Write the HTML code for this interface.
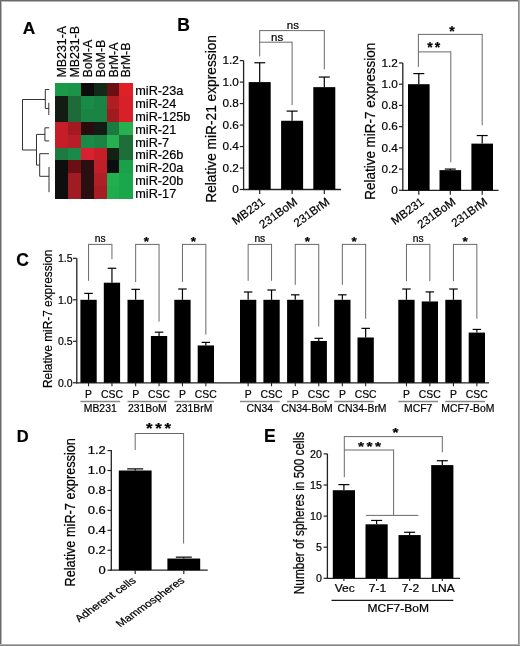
<!DOCTYPE html>
<html><head><meta charset="utf-8"><title>Figure</title>
<style>
html,body{margin:0;padding:0;background:#fff;}
body{width:520px;height:646px;overflow:hidden;}
svg{display:block;font-family:'Liberation Sans', Arial, Helvetica, sans-serif;}
text{stroke:#000;stroke-width:0.2;}
</style></head>
<body>
<svg width="520" height="646" viewBox="0 0 520 646">
<rect x="0" y="0" width="520" height="646" fill="#fff"/>
<text x="22.80" y="34.00" font-size="17.3" text-anchor="start" font-weight="bold" fill="#000" >A</text>
<g shape-rendering="crispEdges">
<rect x="55.20" y="83.00" width="13.15" height="13.20" fill="#1a9a48"/>
<rect x="68.05" y="83.00" width="13.15" height="13.20" fill="#1a9448"/>
<rect x="80.90" y="83.00" width="13.15" height="13.20" fill="#0c0c0c"/>
<rect x="93.75" y="83.00" width="13.15" height="13.20" fill="#122a18"/>
<rect x="106.60" y="83.00" width="13.15" height="13.20" fill="#6a1012"/>
<rect x="119.45" y="83.00" width="13.15" height="13.20" fill="#e02028"/>
<rect x="55.20" y="95.90" width="13.15" height="13.20" fill="#141a14"/>
<rect x="68.05" y="95.90" width="13.15" height="13.20" fill="#1e6a38"/>
<rect x="80.90" y="95.90" width="13.15" height="13.20" fill="#1a8a48"/>
<rect x="93.75" y="95.90" width="13.15" height="13.20" fill="#1a8444"/>
<rect x="106.60" y="95.90" width="13.15" height="13.20" fill="#b01e24"/>
<rect x="119.45" y="95.90" width="13.15" height="13.20" fill="#d82028"/>
<rect x="55.20" y="108.80" width="13.15" height="13.20" fill="#141a14"/>
<rect x="68.05" y="108.80" width="13.15" height="13.20" fill="#1e6a38"/>
<rect x="80.90" y="108.80" width="13.15" height="13.20" fill="#1a8444"/>
<rect x="93.75" y="108.80" width="13.15" height="13.20" fill="#1a8444"/>
<rect x="106.60" y="108.80" width="13.15" height="13.20" fill="#a01a20"/>
<rect x="119.45" y="108.80" width="13.15" height="13.20" fill="#d82028"/>
<rect x="55.20" y="121.70" width="13.15" height="13.20" fill="#c41e28"/>
<rect x="68.05" y="121.70" width="13.15" height="13.20" fill="#a41a22"/>
<rect x="80.90" y="121.70" width="13.15" height="13.20" fill="#2a0c0e"/>
<rect x="93.75" y="121.70" width="13.15" height="13.20" fill="#141a14"/>
<rect x="106.60" y="121.70" width="13.15" height="13.20" fill="#1a7a40"/>
<rect x="119.45" y="121.70" width="13.15" height="13.20" fill="#28b050"/>
<rect x="55.20" y="134.60" width="13.15" height="13.20" fill="#c41e28"/>
<rect x="68.05" y="134.60" width="13.15" height="13.20" fill="#b81e28"/>
<rect x="80.90" y="134.60" width="13.15" height="13.20" fill="#1a8a48"/>
<rect x="93.75" y="134.60" width="13.15" height="13.20" fill="#1a8444"/>
<rect x="106.60" y="134.60" width="13.15" height="13.20" fill="#28b050"/>
<rect x="119.45" y="134.60" width="13.15" height="13.20" fill="#1e6e3a"/>
<rect x="55.20" y="147.50" width="13.15" height="13.20" fill="#1e7a40"/>
<rect x="68.05" y="147.50" width="13.15" height="13.20" fill="#1a8a48"/>
<rect x="80.90" y="147.50" width="13.15" height="13.20" fill="#d82030"/>
<rect x="93.75" y="147.50" width="13.15" height="13.20" fill="#c81e28"/>
<rect x="106.60" y="147.50" width="13.15" height="13.20" fill="#142014"/>
<rect x="119.45" y="147.50" width="13.15" height="13.20" fill="#1e6e3a"/>
<rect x="55.20" y="160.40" width="13.15" height="13.20" fill="#0e0e0e"/>
<rect x="68.05" y="160.40" width="13.15" height="13.20" fill="#6a1014"/>
<rect x="80.90" y="160.40" width="13.15" height="13.20" fill="#2a0e10"/>
<rect x="93.75" y="160.40" width="13.15" height="13.20" fill="#c01e28"/>
<rect x="106.60" y="160.40" width="13.15" height="13.20" fill="#0a0e0e"/>
<rect x="119.45" y="160.40" width="13.15" height="13.20" fill="#1aa04a"/>
<rect x="55.20" y="173.30" width="13.15" height="13.20" fill="#0e0e0e"/>
<rect x="68.05" y="173.30" width="13.15" height="13.20" fill="#a01c22"/>
<rect x="80.90" y="173.30" width="13.15" height="13.20" fill="#2a0e10"/>
<rect x="93.75" y="173.30" width="13.15" height="13.20" fill="#b01e26"/>
<rect x="106.60" y="173.30" width="13.15" height="13.20" fill="#20b050"/>
<rect x="119.45" y="173.30" width="13.15" height="13.20" fill="#1aa64a"/>
<rect x="55.20" y="186.20" width="13.15" height="13.20" fill="#0e0e0e"/>
<rect x="68.05" y="186.20" width="13.15" height="13.20" fill="#a01c22"/>
<rect x="80.90" y="186.20" width="13.15" height="13.20" fill="#2a0e10"/>
<rect x="93.75" y="186.20" width="13.15" height="13.20" fill="#a81c24"/>
<rect x="106.60" y="186.20" width="13.15" height="13.20" fill="#20ac4e"/>
<rect x="119.45" y="186.20" width="13.15" height="13.20" fill="#1aa64a"/>
</g>
<text transform="translate(66.12,77.60) rotate(-90) scale(1.0,1.0)" font-size="12.4" text-anchor="start">MB231-A</text>
<text transform="translate(78.97,77.60) rotate(-90) scale(1.0,1.0)" font-size="12.4" text-anchor="start">MB231-B</text>
<text transform="translate(91.83,77.60) rotate(-90) scale(1.0,1.0)" font-size="12.4" text-anchor="start">BoM-A</text>
<text transform="translate(104.68,77.60) rotate(-90) scale(1.0,1.0)" font-size="12.4" text-anchor="start">BoM-B</text>
<text transform="translate(117.53,77.60) rotate(-90) scale(1.0,1.0)" font-size="12.4" text-anchor="start">BrM-A</text>
<text transform="translate(130.38,77.60) rotate(-90) scale(1.0,1.0)" font-size="12.4" text-anchor="start">BrM-B</text>
<text x="135.30" y="95.10" font-size="12.7" text-anchor="start" font-weight="normal" fill="#000" >miR-23a</text>
<text x="135.30" y="107.95" font-size="12.7" text-anchor="start" font-weight="normal" fill="#000" >miR-24</text>
<text x="135.30" y="120.80" font-size="12.7" text-anchor="start" font-weight="normal" fill="#000" >miR-125b</text>
<text x="135.30" y="133.65" font-size="12.7" text-anchor="start" font-weight="normal" fill="#000" >miR-21</text>
<text x="135.30" y="146.50" font-size="12.7" text-anchor="start" font-weight="normal" fill="#000" >miR-7</text>
<text x="135.30" y="159.35" font-size="12.7" text-anchor="start" font-weight="normal" fill="#000" >miR-26b</text>
<text x="135.30" y="172.20" font-size="12.7" text-anchor="start" font-weight="normal" fill="#000" >miR-20a</text>
<text x="135.30" y="185.05" font-size="12.7" text-anchor="start" font-weight="normal" fill="#000" >miR-20b</text>
<text x="135.30" y="197.90" font-size="12.7" text-anchor="start" font-weight="normal" fill="#000" >miR-17</text>
<line x1="22.50" y1="99.50" x2="22.50" y2="150.00" stroke="#333" stroke-width="1.0"/>
<line x1="22.50" y1="99.50" x2="45.30" y2="99.50" stroke="#333" stroke-width="1.0"/>
<line x1="45.30" y1="89.50" x2="45.30" y2="108.50" stroke="#333" stroke-width="1.0"/>
<line x1="45.30" y1="89.50" x2="49.20" y2="89.50" stroke="#333" stroke-width="1.0"/>
<line x1="45.30" y1="108.50" x2="48.80" y2="108.50" stroke="#333" stroke-width="1.0"/>
<line x1="48.80" y1="102.80" x2="48.80" y2="115.00" stroke="#333" stroke-width="1.0"/>
<line x1="22.50" y1="150.00" x2="36.50" y2="150.00" stroke="#333" stroke-width="1.0"/>
<line x1="36.50" y1="134.40" x2="36.50" y2="165.10" stroke="#333" stroke-width="1.0"/>
<line x1="36.50" y1="134.40" x2="44.90" y2="134.40" stroke="#333" stroke-width="1.0"/>
<line x1="44.90" y1="127.80" x2="44.90" y2="140.90" stroke="#333" stroke-width="1.0"/>
<line x1="44.90" y1="127.80" x2="49.20" y2="127.80" stroke="#333" stroke-width="1.0"/>
<line x1="44.90" y1="140.90" x2="49.20" y2="140.90" stroke="#333" stroke-width="1.0"/>
<line x1="36.50" y1="165.10" x2="39.70" y2="165.10" stroke="#333" stroke-width="1.0"/>
<line x1="39.70" y1="153.70" x2="39.70" y2="176.30" stroke="#333" stroke-width="1.0"/>
<line x1="39.70" y1="153.70" x2="49.00" y2="153.70" stroke="#333" stroke-width="1.0"/>
<line x1="39.70" y1="176.30" x2="49.00" y2="176.30" stroke="#333" stroke-width="1.0"/>
<line x1="49.00" y1="167.00" x2="49.00" y2="192.20" stroke="#333" stroke-width="1.0"/>
<text x="177.20" y="30.70" font-size="17.5" text-anchor="start" font-weight="bold" fill="#000" >B</text>
<line x1="243.60" y1="60.60" x2="243.60" y2="190.10" stroke="#222" stroke-width="1.3"/>
<line x1="243.00" y1="189.50" x2="341.00" y2="189.50" stroke="#222" stroke-width="1.3"/>
<line x1="239.80" y1="189.50" x2="243.60" y2="189.50" stroke="#222" stroke-width="1.2"/>
<text x="238.80" y="193.20" font-size="11.8" text-anchor="end" font-weight="normal" fill="#000" >0</text>
<line x1="239.80" y1="168.02" x2="243.60" y2="168.02" stroke="#222" stroke-width="1.2"/>
<text x="238.80" y="171.72" font-size="11.8" text-anchor="end" font-weight="normal" fill="#000" >0.2</text>
<line x1="239.80" y1="146.54" x2="243.60" y2="146.54" stroke="#222" stroke-width="1.2"/>
<text x="238.80" y="150.24" font-size="11.8" text-anchor="end" font-weight="normal" fill="#000" >0.4</text>
<line x1="239.80" y1="125.06" x2="243.60" y2="125.06" stroke="#222" stroke-width="1.2"/>
<text x="238.80" y="128.76" font-size="11.8" text-anchor="end" font-weight="normal" fill="#000" >0.6</text>
<line x1="239.80" y1="103.58" x2="243.60" y2="103.58" stroke="#222" stroke-width="1.2"/>
<text x="238.80" y="107.28" font-size="11.8" text-anchor="end" font-weight="normal" fill="#000" >0.8</text>
<line x1="239.80" y1="82.10" x2="243.60" y2="82.10" stroke="#222" stroke-width="1.2"/>
<text x="238.80" y="85.80" font-size="11.8" text-anchor="end" font-weight="normal" fill="#000" >1.0</text>
<line x1="239.80" y1="60.62" x2="243.60" y2="60.62" stroke="#222" stroke-width="1.2"/>
<text x="238.80" y="64.32" font-size="11.8" text-anchor="end" font-weight="normal" fill="#000" >1.2</text>
<rect x="248.70" y="82.10" width="22.00" height="107.40" fill="#000"/>
<line x1="259.70" y1="62.77" x2="259.70" y2="82.10" stroke="#000" stroke-width="1.2"/>
<line x1="254.20" y1="62.77" x2="265.20" y2="62.77" stroke="#000" stroke-width="1.2"/>
<rect x="281.10" y="120.76" width="22.00" height="68.74" fill="#000"/>
<line x1="292.10" y1="111.10" x2="292.10" y2="120.76" stroke="#000" stroke-width="1.2"/>
<line x1="286.60" y1="111.10" x2="297.60" y2="111.10" stroke="#000" stroke-width="1.2"/>
<rect x="313.30" y="87.15" width="22.00" height="102.35" fill="#000"/>
<line x1="324.30" y1="77.05" x2="324.30" y2="87.15" stroke="#000" stroke-width="1.2"/>
<line x1="318.80" y1="77.05" x2="329.80" y2="77.05" stroke="#000" stroke-width="1.2"/>
<line x1="259.70" y1="189.50" x2="259.70" y2="194.00" stroke="#222" stroke-width="1.2"/>
<line x1="292.10" y1="189.50" x2="292.10" y2="194.00" stroke="#222" stroke-width="1.2"/>
<line x1="324.30" y1="189.50" x2="324.30" y2="194.00" stroke="#222" stroke-width="1.2"/>
<line x1="259.70" y1="30.60" x2="324.30" y2="30.60" stroke="#6a6a6a" stroke-width="1"/>
<line x1="259.70" y1="30.10" x2="259.70" y2="56.50" stroke="#6a6a6a" stroke-width="1"/>
<line x1="324.30" y1="30.10" x2="324.30" y2="69.40" stroke="#6a6a6a" stroke-width="1"/>
<line x1="259.70" y1="42.20" x2="292.10" y2="42.20" stroke="#6a6a6a" stroke-width="1"/>
<line x1="292.10" y1="41.70" x2="292.10" y2="105.10" stroke="#6a6a6a" stroke-width="1"/>
<text x="292.90" y="28.50" font-size="11.5" text-anchor="middle" font-weight="normal" fill="#000" >ns</text>
<text x="277.20" y="40.60" font-size="11.5" text-anchor="middle" font-weight="normal" fill="#000" >ns</text>
<text transform="translate(215.90,118.90) rotate(-90) scale(1.0,1.0)" font-size="14" text-anchor="middle" textLength="167.70" lengthAdjust="spacingAndGlyphs">Relative miR-21 expression</text>
<text transform="translate(265.70,203.40) rotate(-36) scale(1.0,1.0)" font-size="11.7" text-anchor="end">MB231</text>
<text transform="translate(298.10,203.40) rotate(-36) scale(1.0,1.0)" font-size="11.7" text-anchor="end">231BoM</text>
<text transform="translate(330.30,203.40) rotate(-36) scale(1.0,1.0)" font-size="11.7" text-anchor="end">231BrM</text>
<line x1="402.80" y1="63.00" x2="402.80" y2="190.90" stroke="#222" stroke-width="1.3"/>
<line x1="402.20" y1="190.30" x2="498.50" y2="190.30" stroke="#222" stroke-width="1.3"/>
<line x1="399.00" y1="190.30" x2="402.80" y2="190.30" stroke="#222" stroke-width="1.2"/>
<text x="397.80" y="194.00" font-size="11.8" text-anchor="end" font-weight="normal" fill="#000" >0</text>
<line x1="399.00" y1="169.08" x2="402.80" y2="169.08" stroke="#222" stroke-width="1.2"/>
<text x="397.80" y="172.78" font-size="11.8" text-anchor="end" font-weight="normal" fill="#000" >0.2</text>
<line x1="399.00" y1="147.86" x2="402.80" y2="147.86" stroke="#222" stroke-width="1.2"/>
<text x="397.80" y="151.56" font-size="11.8" text-anchor="end" font-weight="normal" fill="#000" >0.4</text>
<line x1="399.00" y1="126.64" x2="402.80" y2="126.64" stroke="#222" stroke-width="1.2"/>
<text x="397.80" y="130.34" font-size="11.8" text-anchor="end" font-weight="normal" fill="#000" >0.6</text>
<line x1="399.00" y1="105.42" x2="402.80" y2="105.42" stroke="#222" stroke-width="1.2"/>
<text x="397.80" y="109.12" font-size="11.8" text-anchor="end" font-weight="normal" fill="#000" >0.8</text>
<line x1="399.00" y1="84.20" x2="402.80" y2="84.20" stroke="#222" stroke-width="1.2"/>
<text x="397.80" y="87.90" font-size="11.8" text-anchor="end" font-weight="normal" fill="#000" >1.0</text>
<line x1="399.00" y1="62.98" x2="402.80" y2="62.98" stroke="#222" stroke-width="1.2"/>
<text x="397.80" y="66.68" font-size="11.8" text-anchor="end" font-weight="normal" fill="#000" >1.2</text>
<rect x="408.00" y="84.20" width="21.60" height="106.10" fill="#000"/>
<line x1="418.80" y1="73.59" x2="418.80" y2="84.20" stroke="#000" stroke-width="1.2"/>
<line x1="413.30" y1="73.59" x2="424.30" y2="73.59" stroke="#000" stroke-width="1.2"/>
<rect x="439.50" y="170.14" width="21.60" height="20.16" fill="#000"/>
<line x1="450.30" y1="169.08" x2="450.30" y2="170.14" stroke="#000" stroke-width="1.2"/>
<line x1="444.80" y1="169.08" x2="455.80" y2="169.08" stroke="#000" stroke-width="1.2"/>
<rect x="471.40" y="143.62" width="21.60" height="46.68" fill="#000"/>
<line x1="482.20" y1="135.55" x2="482.20" y2="143.62" stroke="#000" stroke-width="1.2"/>
<line x1="476.70" y1="135.55" x2="487.70" y2="135.55" stroke="#000" stroke-width="1.2"/>
<line x1="418.80" y1="190.30" x2="418.80" y2="194.80" stroke="#222" stroke-width="1.2"/>
<line x1="450.30" y1="190.30" x2="450.30" y2="194.80" stroke="#222" stroke-width="1.2"/>
<line x1="482.20" y1="190.30" x2="482.20" y2="194.80" stroke="#222" stroke-width="1.2"/>
<line x1="418.40" y1="34.40" x2="482.20" y2="34.40" stroke="#6a6a6a" stroke-width="1"/>
<line x1="418.40" y1="33.90" x2="418.40" y2="66.90" stroke="#6a6a6a" stroke-width="1"/>
<line x1="482.20" y1="33.90" x2="482.20" y2="125.30" stroke="#6a6a6a" stroke-width="1"/>
<line x1="418.40" y1="51.90" x2="450.80" y2="51.90" stroke="#6a6a6a" stroke-width="1"/>
<line x1="450.80" y1="51.40" x2="450.80" y2="162.30" stroke="#6a6a6a" stroke-width="1"/>
<text transform="translate(452.00,36.30) scale(1.0,1)" x="-2.72" y="0" font-size="14" font-weight="bold" letter-spacing="2.24">*</text>
<text transform="translate(433.70,52.40) scale(1.0,1)" x="-6.57" y="0" font-size="14" font-weight="bold" letter-spacing="2.24">**</text>
<text transform="translate(375.20,121.25) rotate(-90) scale(1.0,1.0)" font-size="14" text-anchor="middle" textLength="156.90" lengthAdjust="spacingAndGlyphs">Relative miR-7 expression</text>
<text transform="translate(424.80,203.40) rotate(-36) scale(1.0,1.0)" font-size="11.7" text-anchor="end">MB231</text>
<text transform="translate(456.30,203.40) rotate(-36) scale(1.0,1.0)" font-size="11.7" text-anchor="end">231BoM</text>
<text transform="translate(488.20,203.40) rotate(-36) scale(1.0,1.0)" font-size="11.7" text-anchor="end">231BrM</text>
<text x="16.20" y="266.00" font-size="17.5" text-anchor="start" font-weight="bold" fill="#000" >C</text>
<line x1="76.80" y1="258.30" x2="76.80" y2="383.40" stroke="#222" stroke-width="1.3"/>
<line x1="76.20" y1="382.80" x2="489.00" y2="382.80" stroke="#222" stroke-width="1.3"/>
<line x1="73.00" y1="382.80" x2="76.80" y2="382.80" stroke="#222" stroke-width="1.2"/>
<text x="72.60" y="386.58" font-size="10.5" text-anchor="end" font-weight="normal" fill="#000" >0.0</text>
<line x1="73.00" y1="341.30" x2="76.80" y2="341.30" stroke="#222" stroke-width="1.2"/>
<text x="72.60" y="345.08" font-size="10.5" text-anchor="end" font-weight="normal" fill="#000" >0.5</text>
<line x1="73.00" y1="299.80" x2="76.80" y2="299.80" stroke="#222" stroke-width="1.2"/>
<text x="72.60" y="303.58" font-size="10.5" text-anchor="end" font-weight="normal" fill="#000" >1.0</text>
<line x1="73.00" y1="258.30" x2="76.80" y2="258.30" stroke="#222" stroke-width="1.2"/>
<text x="72.60" y="262.08" font-size="10.5" text-anchor="end" font-weight="normal" fill="#000" >1.5</text>
<rect x="80.40" y="299.80" width="16.30" height="83.00" fill="#000"/>
<line x1="88.55" y1="293.41" x2="88.55" y2="299.80" stroke="#000" stroke-width="1.2"/>
<line x1="84.30" y1="293.41" x2="92.80" y2="293.41" stroke="#000" stroke-width="1.2"/>
<rect x="103.80" y="282.70" width="16.30" height="100.10" fill="#000"/>
<line x1="111.95" y1="268.26" x2="111.95" y2="282.70" stroke="#000" stroke-width="1.2"/>
<line x1="107.70" y1="268.26" x2="116.20" y2="268.26" stroke="#000" stroke-width="1.2"/>
<rect x="127.50" y="299.80" width="16.30" height="83.00" fill="#000"/>
<line x1="135.65" y1="289.34" x2="135.65" y2="299.80" stroke="#000" stroke-width="1.2"/>
<line x1="131.40" y1="289.34" x2="139.90" y2="289.34" stroke="#000" stroke-width="1.2"/>
<rect x="150.90" y="335.99" width="16.30" height="46.81" fill="#000"/>
<line x1="159.05" y1="332.17" x2="159.05" y2="335.99" stroke="#000" stroke-width="1.2"/>
<line x1="154.80" y1="332.17" x2="163.30" y2="332.17" stroke="#000" stroke-width="1.2"/>
<rect x="174.30" y="299.80" width="16.30" height="83.00" fill="#000"/>
<line x1="182.45" y1="289.01" x2="182.45" y2="299.80" stroke="#000" stroke-width="1.2"/>
<line x1="178.20" y1="289.01" x2="186.70" y2="289.01" stroke="#000" stroke-width="1.2"/>
<rect x="197.70" y="345.45" width="16.30" height="37.35" fill="#000"/>
<line x1="205.85" y1="342.38" x2="205.85" y2="345.45" stroke="#000" stroke-width="1.2"/>
<line x1="201.60" y1="342.38" x2="210.10" y2="342.38" stroke="#000" stroke-width="1.2"/>
<rect x="240.00" y="299.80" width="16.30" height="83.00" fill="#000"/>
<line x1="248.15" y1="292.00" x2="248.15" y2="299.80" stroke="#000" stroke-width="1.2"/>
<line x1="243.90" y1="292.00" x2="252.40" y2="292.00" stroke="#000" stroke-width="1.2"/>
<rect x="263.40" y="299.80" width="16.30" height="83.00" fill="#000"/>
<line x1="271.55" y1="290.01" x2="271.55" y2="299.80" stroke="#000" stroke-width="1.2"/>
<line x1="267.30" y1="290.01" x2="275.80" y2="290.01" stroke="#000" stroke-width="1.2"/>
<rect x="287.10" y="299.80" width="16.30" height="83.00" fill="#000"/>
<line x1="295.25" y1="294.82" x2="295.25" y2="299.80" stroke="#000" stroke-width="1.2"/>
<line x1="291.00" y1="294.82" x2="299.50" y2="294.82" stroke="#000" stroke-width="1.2"/>
<rect x="310.60" y="340.97" width="16.30" height="41.83" fill="#000"/>
<line x1="318.75" y1="338.31" x2="318.75" y2="340.97" stroke="#000" stroke-width="1.2"/>
<line x1="314.50" y1="338.31" x2="323.00" y2="338.31" stroke="#000" stroke-width="1.2"/>
<rect x="334.20" y="299.80" width="16.30" height="83.00" fill="#000"/>
<line x1="342.35" y1="294.82" x2="342.35" y2="299.80" stroke="#000" stroke-width="1.2"/>
<line x1="338.10" y1="294.82" x2="346.60" y2="294.82" stroke="#000" stroke-width="1.2"/>
<rect x="357.50" y="337.48" width="16.30" height="45.32" fill="#000"/>
<line x1="365.65" y1="328.35" x2="365.65" y2="337.48" stroke="#000" stroke-width="1.2"/>
<line x1="361.40" y1="328.35" x2="369.90" y2="328.35" stroke="#000" stroke-width="1.2"/>
<rect x="398.30" y="299.80" width="16.30" height="83.00" fill="#000"/>
<line x1="406.45" y1="289.01" x2="406.45" y2="299.80" stroke="#000" stroke-width="1.2"/>
<line x1="402.20" y1="289.01" x2="410.70" y2="289.01" stroke="#000" stroke-width="1.2"/>
<rect x="421.70" y="301.46" width="16.30" height="81.34" fill="#000"/>
<line x1="429.85" y1="291.92" x2="429.85" y2="301.46" stroke="#000" stroke-width="1.2"/>
<line x1="425.60" y1="291.92" x2="434.10" y2="291.92" stroke="#000" stroke-width="1.2"/>
<rect x="445.30" y="299.80" width="16.30" height="83.00" fill="#000"/>
<line x1="453.45" y1="289.01" x2="453.45" y2="299.80" stroke="#000" stroke-width="1.2"/>
<line x1="449.20" y1="289.01" x2="457.70" y2="289.01" stroke="#000" stroke-width="1.2"/>
<rect x="468.70" y="332.59" width="16.30" height="50.21" fill="#000"/>
<line x1="476.85" y1="329.43" x2="476.85" y2="332.59" stroke="#000" stroke-width="1.2"/>
<line x1="472.60" y1="329.43" x2="481.10" y2="329.43" stroke="#000" stroke-width="1.2"/>
<line x1="88.55" y1="382.80" x2="88.55" y2="386.30" stroke="#222" stroke-width="1.1"/>
<line x1="111.95" y1="382.80" x2="111.95" y2="386.30" stroke="#222" stroke-width="1.1"/>
<line x1="135.65" y1="382.80" x2="135.65" y2="386.30" stroke="#222" stroke-width="1.1"/>
<line x1="159.05" y1="382.80" x2="159.05" y2="386.30" stroke="#222" stroke-width="1.1"/>
<line x1="182.45" y1="382.80" x2="182.45" y2="386.30" stroke="#222" stroke-width="1.1"/>
<line x1="205.85" y1="382.80" x2="205.85" y2="386.30" stroke="#222" stroke-width="1.1"/>
<line x1="248.15" y1="382.80" x2="248.15" y2="386.30" stroke="#222" stroke-width="1.1"/>
<line x1="271.55" y1="382.80" x2="271.55" y2="386.30" stroke="#222" stroke-width="1.1"/>
<line x1="295.25" y1="382.80" x2="295.25" y2="386.30" stroke="#222" stroke-width="1.1"/>
<line x1="318.75" y1="382.80" x2="318.75" y2="386.30" stroke="#222" stroke-width="1.1"/>
<line x1="342.35" y1="382.80" x2="342.35" y2="386.30" stroke="#222" stroke-width="1.1"/>
<line x1="365.65" y1="382.80" x2="365.65" y2="386.30" stroke="#222" stroke-width="1.1"/>
<line x1="406.45" y1="382.80" x2="406.45" y2="386.30" stroke="#222" stroke-width="1.1"/>
<line x1="429.85" y1="382.80" x2="429.85" y2="386.30" stroke="#222" stroke-width="1.1"/>
<line x1="453.45" y1="382.80" x2="453.45" y2="386.30" stroke="#222" stroke-width="1.1"/>
<line x1="476.85" y1="382.80" x2="476.85" y2="386.30" stroke="#222" stroke-width="1.1"/>
<line x1="88.55" y1="244.40" x2="111.95" y2="244.40" stroke="#6a6a6a" stroke-width="1"/>
<line x1="88.55" y1="243.90" x2="88.55" y2="280.80" stroke="#6a6a6a" stroke-width="1"/>
<line x1="111.95" y1="243.90" x2="111.95" y2="259.20" stroke="#6a6a6a" stroke-width="1"/>
<text x="100.25" y="241.80" font-size="10.3" text-anchor="middle" font-weight="normal" fill="#000" >ns</text>
<line x1="135.65" y1="244.40" x2="159.05" y2="244.40" stroke="#6a6a6a" stroke-width="1"/>
<line x1="135.65" y1="243.90" x2="135.65" y2="282.00" stroke="#6a6a6a" stroke-width="1"/>
<line x1="159.05" y1="243.90" x2="159.05" y2="321.60" stroke="#6a6a6a" stroke-width="1"/>
<text transform="translate(146.25,246.40) scale(1.0,1)" x="-2.63" y="0" font-size="13.5" font-weight="bold" letter-spacing="2.16">*</text>
<line x1="182.45" y1="244.40" x2="205.85" y2="244.40" stroke="#6a6a6a" stroke-width="1"/>
<line x1="182.45" y1="243.90" x2="182.45" y2="282.00" stroke="#6a6a6a" stroke-width="1"/>
<line x1="205.85" y1="243.90" x2="205.85" y2="334.60" stroke="#6a6a6a" stroke-width="1"/>
<text transform="translate(193.35,246.40) scale(1.0,1)" x="-2.63" y="0" font-size="13.5" font-weight="bold" letter-spacing="2.16">*</text>
<line x1="248.15" y1="244.40" x2="271.55" y2="244.40" stroke="#6a6a6a" stroke-width="1"/>
<line x1="248.15" y1="243.90" x2="248.15" y2="280.80" stroke="#6a6a6a" stroke-width="1"/>
<line x1="271.55" y1="243.90" x2="271.55" y2="280.80" stroke="#6a6a6a" stroke-width="1"/>
<text x="259.85" y="241.80" font-size="10.3" text-anchor="middle" font-weight="normal" fill="#000" >ns</text>
<line x1="295.25" y1="244.40" x2="318.75" y2="244.40" stroke="#6a6a6a" stroke-width="1"/>
<line x1="295.25" y1="243.90" x2="295.25" y2="284.80" stroke="#6a6a6a" stroke-width="1"/>
<line x1="318.75" y1="243.90" x2="318.75" y2="326.50" stroke="#6a6a6a" stroke-width="1"/>
<text transform="translate(307.30,246.40) scale(1.0,1)" x="-2.63" y="0" font-size="13.5" font-weight="bold" letter-spacing="2.16">*</text>
<line x1="342.35" y1="244.40" x2="365.65" y2="244.40" stroke="#6a6a6a" stroke-width="1"/>
<line x1="342.35" y1="243.90" x2="342.35" y2="284.80" stroke="#6a6a6a" stroke-width="1"/>
<line x1="365.65" y1="243.90" x2="365.65" y2="318.70" stroke="#6a6a6a" stroke-width="1"/>
<text transform="translate(354.00,246.40) scale(1.0,1)" x="-2.63" y="0" font-size="13.5" font-weight="bold" letter-spacing="2.16">*</text>
<line x1="406.45" y1="244.40" x2="429.85" y2="244.40" stroke="#6a6a6a" stroke-width="1"/>
<line x1="406.45" y1="243.90" x2="406.45" y2="281.20" stroke="#6a6a6a" stroke-width="1"/>
<line x1="429.85" y1="243.90" x2="429.85" y2="281.20" stroke="#6a6a6a" stroke-width="1"/>
<text x="418.15" y="241.80" font-size="10.3" text-anchor="middle" font-weight="normal" fill="#000" >ns</text>
<line x1="453.45" y1="244.40" x2="476.85" y2="244.40" stroke="#6a6a6a" stroke-width="1"/>
<line x1="453.45" y1="243.90" x2="453.45" y2="281.20" stroke="#6a6a6a" stroke-width="1"/>
<line x1="476.85" y1="243.90" x2="476.85" y2="318.70" stroke="#6a6a6a" stroke-width="1"/>
<text transform="translate(465.15,246.40) scale(1.0,1)" x="-2.63" y="0" font-size="13.5" font-weight="bold" letter-spacing="2.16">*</text>
<text x="88.55" y="397.70" font-size="10.4" text-anchor="middle" font-weight="normal" fill="#000" >P</text>
<text x="111.95" y="397.70" font-size="10.4" text-anchor="middle" font-weight="normal" fill="#000" >CSC</text>
<line x1="80.40" y1="401.60" x2="120.10" y2="401.60" stroke="#8a8a8a" stroke-width="1.5"/>
<text x="100.25" y="411.80" font-size="10.4" text-anchor="middle" font-weight="normal" fill="#000" >MB231</text>
<text x="135.65" y="397.70" font-size="10.4" text-anchor="middle" font-weight="normal" fill="#000" >P</text>
<text x="159.05" y="397.70" font-size="10.4" text-anchor="middle" font-weight="normal" fill="#000" >CSC</text>
<line x1="127.50" y1="401.60" x2="167.20" y2="401.60" stroke="#8a8a8a" stroke-width="1.5"/>
<text x="147.35" y="411.80" font-size="10.4" text-anchor="middle" font-weight="normal" fill="#000" >231BoM</text>
<text x="182.45" y="397.70" font-size="10.4" text-anchor="middle" font-weight="normal" fill="#000" >P</text>
<text x="205.85" y="397.70" font-size="10.4" text-anchor="middle" font-weight="normal" fill="#000" >CSC</text>
<line x1="174.30" y1="401.60" x2="214.00" y2="401.60" stroke="#8a8a8a" stroke-width="1.5"/>
<text x="194.15" y="411.80" font-size="10.4" text-anchor="middle" font-weight="normal" fill="#000" >231BrM</text>
<text x="248.15" y="397.70" font-size="10.4" text-anchor="middle" font-weight="normal" fill="#000" >P</text>
<text x="271.55" y="397.70" font-size="10.4" text-anchor="middle" font-weight="normal" fill="#000" >CSC</text>
<line x1="240.00" y1="401.60" x2="279.70" y2="401.60" stroke="#8a8a8a" stroke-width="1.5"/>
<text x="259.85" y="411.80" font-size="10.4" text-anchor="middle" font-weight="normal" fill="#000" >CN34</text>
<text x="295.25" y="397.70" font-size="10.4" text-anchor="middle" font-weight="normal" fill="#000" >P</text>
<text x="318.75" y="397.70" font-size="10.4" text-anchor="middle" font-weight="normal" fill="#000" >CSC</text>
<line x1="287.10" y1="401.60" x2="326.90" y2="401.60" stroke="#8a8a8a" stroke-width="1.5"/>
<text x="307.00" y="411.80" font-size="10.4" text-anchor="middle" font-weight="normal" fill="#000" >CN34-BoM</text>
<text x="342.35" y="397.70" font-size="10.4" text-anchor="middle" font-weight="normal" fill="#000" >P</text>
<text x="365.65" y="397.70" font-size="10.4" text-anchor="middle" font-weight="normal" fill="#000" >CSC</text>
<line x1="334.20" y1="401.60" x2="373.80" y2="401.60" stroke="#8a8a8a" stroke-width="1.5"/>
<text x="362.00" y="411.80" font-size="10.4" text-anchor="middle" font-weight="normal" fill="#000" >CN34-BrM</text>
<text x="406.45" y="397.70" font-size="10.4" text-anchor="middle" font-weight="normal" fill="#000" >P</text>
<text x="429.85" y="397.70" font-size="10.4" text-anchor="middle" font-weight="normal" fill="#000" >CSC</text>
<line x1="398.30" y1="401.60" x2="438.00" y2="401.60" stroke="#8a8a8a" stroke-width="1.5"/>
<text x="418.15" y="411.80" font-size="10.4" text-anchor="middle" font-weight="normal" fill="#000" >MCF7</text>
<text x="453.45" y="397.70" font-size="10.4" text-anchor="middle" font-weight="normal" fill="#000" >P</text>
<text x="476.85" y="397.70" font-size="10.4" text-anchor="middle" font-weight="normal" fill="#000" >CSC</text>
<line x1="445.30" y1="401.60" x2="485.00" y2="401.60" stroke="#8a8a8a" stroke-width="1.5"/>
<text x="467.85" y="411.80" font-size="10.4" text-anchor="middle" font-weight="normal" fill="#000" >MCF7-BoM</text>
<text transform="translate(51.80,318.80) rotate(-90) scale(1.0,1.0)" font-size="12" text-anchor="middle" textLength="138.40" lengthAdjust="spacingAndGlyphs">Relative miR-7 expression</text>
<text x="16.80" y="441.80" font-size="16.5" text-anchor="start" font-weight="bold" fill="#000" >D</text>
<line x1="111.30" y1="450.00" x2="111.30" y2="570.80" stroke="#222" stroke-width="1.3"/>
<line x1="110.70" y1="570.20" x2="207.70" y2="570.20" stroke="#222" stroke-width="1.3"/>
<line x1="107.50" y1="570.20" x2="111.30" y2="570.20" stroke="#222" stroke-width="1.2"/>
<text transform="translate(105.80,573.80) scale(1.3,1)" font-size="10" text-anchor="end">0</text>
<line x1="107.50" y1="550.26" x2="111.30" y2="550.26" stroke="#222" stroke-width="1.2"/>
<text transform="translate(105.80,553.86) scale(1.3,1)" font-size="10" text-anchor="end">0.2</text>
<line x1="107.50" y1="530.32" x2="111.30" y2="530.32" stroke="#222" stroke-width="1.2"/>
<text transform="translate(105.80,533.92) scale(1.3,1)" font-size="10" text-anchor="end">0.4</text>
<line x1="107.50" y1="510.38" x2="111.30" y2="510.38" stroke="#222" stroke-width="1.2"/>
<text transform="translate(105.80,513.98) scale(1.3,1)" font-size="10" text-anchor="end">0.6</text>
<line x1="107.50" y1="490.44" x2="111.30" y2="490.44" stroke="#222" stroke-width="1.2"/>
<text transform="translate(105.80,494.04) scale(1.3,1)" font-size="10" text-anchor="end">0.8</text>
<line x1="107.50" y1="470.50" x2="111.30" y2="470.50" stroke="#222" stroke-width="1.2"/>
<text transform="translate(105.80,474.10) scale(1.3,1)" font-size="10" text-anchor="end">1.0</text>
<line x1="107.50" y1="450.56" x2="111.30" y2="450.56" stroke="#222" stroke-width="1.2"/>
<text transform="translate(105.80,454.16) scale(1.3,1)" font-size="10" text-anchor="end">1.2</text>
<rect x="118.80" y="470.50" width="32.80" height="99.70" fill="#000"/>
<line x1="135.20" y1="468.90" x2="135.20" y2="470.50" stroke="#000" stroke-width="1.2"/>
<line x1="127.20" y1="468.90" x2="143.20" y2="468.90" stroke="#000" stroke-width="1.2"/>
<rect x="167.40" y="558.54" width="32.80" height="11.66" fill="#000"/>
<line x1="183.80" y1="557.14" x2="183.80" y2="558.54" stroke="#000" stroke-width="1.2"/>
<line x1="175.80" y1="557.14" x2="191.80" y2="557.14" stroke="#000" stroke-width="1.2"/>
<line x1="135.20" y1="570.20" x2="135.20" y2="574.00" stroke="#222" stroke-width="1.2"/>
<line x1="183.80" y1="570.20" x2="183.80" y2="574.00" stroke="#222" stroke-width="1.2"/>
<line x1="135.20" y1="433.50" x2="183.60" y2="433.50" stroke="#6a6a6a" stroke-width="1"/>
<line x1="135.20" y1="433.00" x2="135.20" y2="450.00" stroke="#6a6a6a" stroke-width="1"/>
<line x1="183.60" y1="433.00" x2="183.60" y2="543.50" stroke="#6a6a6a" stroke-width="1"/>
<text transform="translate(158.60,433.00) scale(1.2,1)" x="-10.41" y="0" font-size="14" font-weight="bold" letter-spacing="2.24">***</text>
<text transform="translate(75.2,512.3) rotate(-90) scale(1,1.2)" font-size="12.7" text-anchor="middle" textLength="148.4" lengthAdjust="spacingAndGlyphs">Relative miR-7 expression</text>
<text transform="translate(136.80,581.5) scale(1.25,1) rotate(-41.5)" font-size="9.7" text-anchor="end">Adherent cells</text>
<text transform="translate(185.40,581.5) scale(1.25,1) rotate(-41.5)" font-size="9.7" text-anchor="end">Mammospheres</text>
<text x="264.00" y="441.70" font-size="17.5" text-anchor="start" font-weight="bold" fill="#000" >E</text>
<line x1="327.40" y1="453.80" x2="327.40" y2="578.90" stroke="#222" stroke-width="1.3"/>
<line x1="326.80" y1="578.30" x2="460.00" y2="578.30" stroke="#222" stroke-width="1.3"/>
<line x1="323.60" y1="578.30" x2="327.40" y2="578.30" stroke="#222" stroke-width="1.2"/>
<text x="321.90" y="582.15" font-size="10.7" text-anchor="end" font-weight="normal" fill="#000" >0</text>
<line x1="323.60" y1="547.20" x2="327.40" y2="547.20" stroke="#222" stroke-width="1.2"/>
<text x="321.90" y="551.05" font-size="10.7" text-anchor="end" font-weight="normal" fill="#000" >5</text>
<line x1="323.60" y1="516.10" x2="327.40" y2="516.10" stroke="#222" stroke-width="1.2"/>
<text x="321.90" y="519.95" font-size="10.7" text-anchor="end" font-weight="normal" fill="#000" >10</text>
<line x1="323.60" y1="485.00" x2="327.40" y2="485.00" stroke="#222" stroke-width="1.2"/>
<text x="321.90" y="488.85" font-size="10.7" text-anchor="end" font-weight="normal" fill="#000" >15</text>
<line x1="323.60" y1="453.90" x2="327.40" y2="453.90" stroke="#222" stroke-width="1.2"/>
<text x="321.90" y="457.75" font-size="10.7" text-anchor="end" font-weight="normal" fill="#000" >20</text>
<rect x="332.80" y="490.22" width="22.20" height="88.08" fill="#000"/>
<line x1="343.90" y1="484.63" x2="343.90" y2="490.22" stroke="#000" stroke-width="1.2"/>
<line x1="338.40" y1="484.63" x2="349.40" y2="484.63" stroke="#000" stroke-width="1.2"/>
<rect x="365.50" y="524.31" width="22.20" height="53.99" fill="#000"/>
<line x1="376.60" y1="520.45" x2="376.60" y2="524.31" stroke="#000" stroke-width="1.2"/>
<line x1="371.10" y1="520.45" x2="382.10" y2="520.45" stroke="#000" stroke-width="1.2"/>
<rect x="398.50" y="535.07" width="22.20" height="43.23" fill="#000"/>
<line x1="409.60" y1="532.27" x2="409.60" y2="535.07" stroke="#000" stroke-width="1.2"/>
<line x1="404.10" y1="532.27" x2="415.10" y2="532.27" stroke="#000" stroke-width="1.2"/>
<rect x="431.20" y="465.10" width="22.20" height="113.20" fill="#000"/>
<line x1="442.30" y1="460.74" x2="442.30" y2="465.10" stroke="#000" stroke-width="1.2"/>
<line x1="436.80" y1="460.74" x2="447.80" y2="460.74" stroke="#000" stroke-width="1.2"/>
<line x1="343.90" y1="578.30" x2="343.90" y2="581.10" stroke="#222" stroke-width="1.1"/>
<line x1="376.60" y1="578.30" x2="376.60" y2="581.10" stroke="#222" stroke-width="1.1"/>
<line x1="409.60" y1="578.30" x2="409.60" y2="581.10" stroke="#222" stroke-width="1.1"/>
<line x1="442.30" y1="578.30" x2="442.30" y2="581.10" stroke="#222" stroke-width="1.1"/>
<line x1="344.30" y1="436.60" x2="442.30" y2="436.60" stroke="#6a6a6a" stroke-width="1"/>
<line x1="344.30" y1="436.10" x2="344.30" y2="477.20" stroke="#6a6a6a" stroke-width="1"/>
<line x1="442.30" y1="436.10" x2="442.30" y2="452.30" stroke="#6a6a6a" stroke-width="1"/>
<line x1="344.30" y1="450.00" x2="393.60" y2="450.00" stroke="#6a6a6a" stroke-width="1"/>
<line x1="393.60" y1="449.50" x2="393.60" y2="515.40" stroke="#6a6a6a" stroke-width="1"/>
<line x1="366.00" y1="515.40" x2="418.30" y2="515.40" stroke="#6a6a6a" stroke-width="1"/>
<text transform="translate(395.40,437.00) scale(1.15,1)" x="-2.63" y="0" font-size="13.5" font-weight="bold" letter-spacing="2.16">*</text>
<text transform="translate(369.60,451.00) scale(1.15,1)" x="-10.04" y="0" font-size="13.5" font-weight="bold" letter-spacing="2.16">***</text>
<text transform="translate(344.70,591.6) scale(1.18,1)" font-size="10.2" text-anchor="middle">Vec</text>
<text transform="translate(377.40,591.6) scale(1.18,1)" font-size="10.2" text-anchor="middle">7-1</text>
<text transform="translate(410.40,591.6) scale(1.18,1)" font-size="10.2" text-anchor="middle">7-2</text>
<text transform="translate(443.10,591.6) scale(1.18,1)" font-size="10.2" text-anchor="middle">LNA</text>
<line x1="331.50" y1="600.40" x2="453.30" y2="600.40" stroke="#1a1a1a" stroke-width="1.3"/>
<text transform="translate(398.3,611.9) scale(1.18,1)" font-size="10.2" text-anchor="middle">MCF7-BoM</text>
<text transform="translate(303.6,513.0) rotate(-90) scale(1,1.2)" font-size="11.8" text-anchor="middle" textLength="162.3" lengthAdjust="spacingAndGlyphs">Number of spheres in 500 cells</text>
<g shape-rendering="crispEdges">
<rect x="0.00" y="0.00" width="520.00" height="1.00" fill="#6a6a6a"/>
<rect x="0.00" y="1.00" width="520.00" height="1.00" fill="#b8b8b8"/>
<rect x="0.00" y="0.00" width="1.00" height="646.00" fill="#6a6a6a"/>
<rect x="1.00" y="1.00" width="1.00" height="644.00" fill="#b8b8b8"/>
<rect x="518.00" y="0.00" width="1.00" height="646.00" fill="#8e8e8e"/>
<rect x="519.00" y="0.00" width="1.00" height="646.00" fill="#acacac"/>
<rect x="0.00" y="644.00" width="520.00" height="1.00" fill="#b0b0b0"/>
<rect x="0.00" y="645.00" width="520.00" height="1.00" fill="#858585"/>
</g>
</svg>
</body></html>
